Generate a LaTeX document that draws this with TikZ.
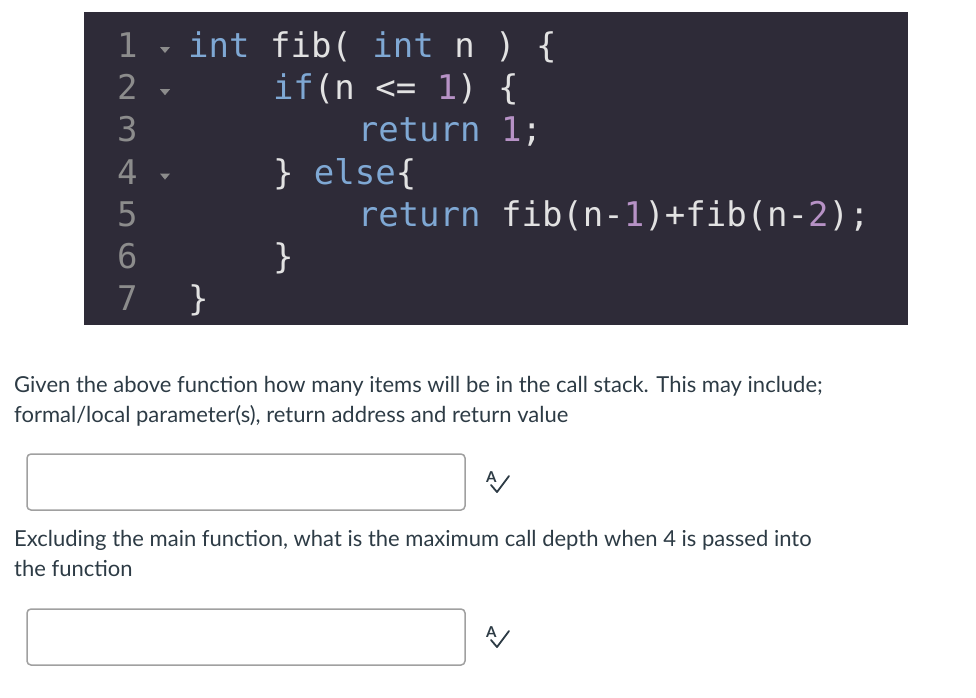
\documentclass[tikz,border=0pt]{standalone}
\usepackage{fontspec}
\setmainfont{Lato}
\newfontfamily\codefont{DejaVu Sans Mono}
\begin{document}
\begin{tikzpicture}[x=1pt,y=-1pt,
  cl/.style={anchor=base west,inner sep=0pt,font=\codefont\fontsize{34}{34}\selectfont},
  num/.style={cl,text=numgray},
  txt/.style={anchor=base west,inner sep=0pt,font=\fontsize{22}{22}\selectfont,text=txtc},
  ansbox/.style={draw=boxc,line width=1.5pt,rounded corners=4pt},
  tri/.style={fill=numgray,draw=none}]
\definecolor{bgc}{HTML}{2E2B38}
\definecolor{kw}{HTML}{7FA8D4}
\definecolor{wt}{HTML}{E2E2E2}
\definecolor{pu}{HTML}{B792C6}
\definecolor{numgray}{HTML}{8C8C8C}
\definecolor{txtc}{HTML}{2D3B45}
\definecolor{boxc}{HTML}{A0A0A0}
\useasboundingbox (0,0) rectangle (976,697);
\fill[bgc] (84,12) rectangle (908,325);
\def\cw{21.2}
\foreach \n/\y in {1/57,2/99,3/141,4/184,5/226,6/268,7/310}{
  \node[num] (ln\n) at (117,\y) {\n};}
\foreach \y in {1,2,4}{
  \pgfmathsetmacro\yy{57+(\y-1)*42.2-10}
  \fill[numgray] (160,\yy) -- (170,\yy) -- (165,\yy+6) -- cycle;}
\node[cl] (c1) at (188,57) {\textcolor{kw}{int} \textcolor{wt}{fib(} \textcolor{kw}{int} \textcolor{wt}{n ) \{}};
\node[cl] (c2) at (188+4*\cw,99) {\textcolor{kw}{if}\textcolor{wt}{(n <= }\textcolor{pu}{1}\textcolor{wt}{) \{}};
\node[cl] (c3) at (188+8*\cw,141) {\textcolor{kw}{return} \textcolor{pu}{1}\textcolor{wt}{;}};
\node[cl] (c4) at (188+4*\cw,184) {\textcolor{wt}{\} }\textcolor{kw}{else}\textcolor{wt}{ \{}};
\node[cl] (c5) at (188+8*\cw,226) {\textcolor{kw}{return} \textcolor{wt}{fib(n-}\textcolor{pu}{1}\textcolor{wt}{)+fib(n-}\textcolor{pu}{2}\textcolor{wt}{);}};
\node[cl] (c6) at (188+4*\cw,268) {\textcolor{wt}{\}}};
\node[cl] (c7) at (188,310) {\textcolor{wt}{\}}};
\node[txt] (t1) at (14,392) {Given the above function how many items will be in the call stack. This may include;};
\node[txt] (t2) at (14,422) {formal/local parameter(s), return address and return value};
\draw[ansbox] (27,454) rectangle (465,510);
\node[txt] (t3) at (14,546) {Excluding the main function, what is the maximum call depth when 4 is passed into};
\node[txt] (t4) at (14,576) {the function};
\draw[ansbox] (27,609) rectangle (465,665);
\foreach \y/\nm in {482/i1,637/i2}{
  \node[anchor=base west,inner sep=0pt,font=\fontsize{15}{15}\selectfont\bfseries,text=txtc] (\nm) at (486,\y) {A};
  \draw[txtc,line width=1.8pt,line cap=round,line join=round] (491,\y+3) -- (497,\y+10) -- (509,\y-6);}
\end{tikzpicture}
\end{document}
